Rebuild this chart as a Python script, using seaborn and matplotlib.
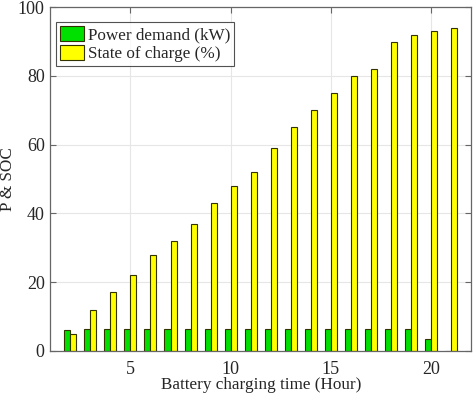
import numpy as np
import pandas as pd
import matplotlib
matplotlib.use("Agg")
import matplotlib.pyplot as plt
import seaborn as sns

# data
hours = list(range(2, 22))
power = [6.2, 6.5, 6.5, 6.5, 6.5, 6.5, 6.5, 6.5, 6.5, 6.5,
         6.5, 6.5, 6.5, 6.5, 6.5, 6.5, 6.5, 6.5, 3.5, 0.0]
soc = [5, 12, 17, 22, 28, 32, 37, 43, 48, 52,
       59, 65, 70, 75, 80, 82, 90, 92, 93, 94]
series = ["Power demand (kW)", "State of charge (%)"]

df = pd.DataFrame({
    "hour": hours * 2,
    "value": power + soc,
    "series": [series[0]] * len(hours) + [series[1]] * len(hours),
})

sns.set_style("white")
plt.rcParams["font.family"] = ["Liberation Serif", "DejaVu Serif"]

fig = plt.figure(figsize=(4.74, 3.96), dpi=100)
ax = fig.add_axes([0.106, 0.114, 0.888, 0.868])

sns.barplot(data=df, x="hour", y="value", hue="series", native_scale=True,
            palette=["#00e000", "#ffff00"], saturation=1, width=0.6, gap=0.0,
            edgecolor="#333300", linewidth=0.8, ax=ax, legend=True)

ax.set_xlim(1, 22)
ax.set_ylim(0, 100)
ax.set_xticks([5, 10, 15, 20])
ax.set_yticks([0, 20, 40, 60, 80, 100])
ax.grid(True, color="#e6e6e6", linewidth=0.8)
ax.set_axisbelow(True)
ax.tick_params(direction="in", length=4, labelsize=13, colors="#666666",
               labelcolor="#262626", top=True, right=True, bottom=True, left=True)
ax.tick_params(axis="x", pad=7)
ax.tick_params(axis="y", pad=4)
for s in ax.spines.values():
    s.set_color("#666666")
    s.set_linewidth(0.9)

ax.set_xlabel("Battery charging time (Hour)", fontsize=12.3, color="#262626")
ax.set_ylabel("P & SOC", fontsize=12.3, color="#262626")
ax.xaxis.set_label_coords(0.5, -0.077)
ax.yaxis.set_label_coords(-0.082, 0.5)

leg = ax.legend(loc="upper left", fontsize=12.3, frameon=True, fancybox=False,
                edgecolor="#262626", handlelength=1.45, handleheight=1.0,
                handletextpad=0.2, borderpad=0.2, labelspacing=0.1,
                borderaxespad=0, bbox_to_anchor=(0.014, 0.956))
leg.get_frame().set_linewidth(0.8)

fig.savefig("out.png", dpi=100)
